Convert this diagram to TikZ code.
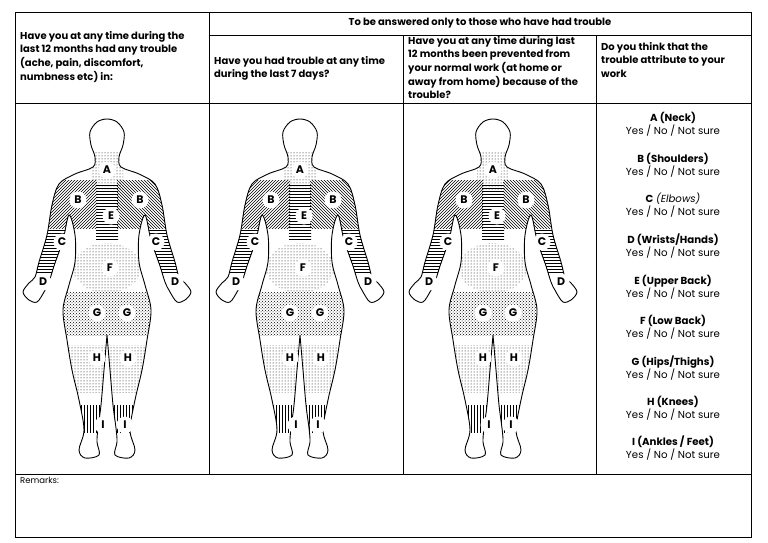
\documentclass[tikz,border=0pt]{standalone}
\usepackage{fontspec}
\setmainfont{Poppins}
\usetikzlibrary{patterns}
\begin{document}
\begin{tikzpicture}[x=1pt,y=-1pt,
  hd/.style={font=\fontsize{10}{13.6}\selectfont\bfseries, align=left, inner sep=0pt},
  ans/.style={font=\fontsize{10.2}{13}\selectfont, align=center, inner sep=0pt},
  lab/.style={circle, fill=white, inner sep=0pt, minimum size=17pt, font=\fontsize{11}{11}\selectfont\bfseries},
  pics/body/.style={code={
    \def\outline{plot[smooth, tension=0.55] coordinates {(0,335) (3,370) (6,405) (9,428) (10,442) (8,455) (22,458) (28,450) (23,430) (28,400) (35,370) (40,340) (44,310) (38,285) (32,262) (32,235) (38,215) (44,240) (53,266) (58,282) (63,292) (70,302) (78,300) (84,292) (78,283) (72,277) (68,262) (60,235) (55,205) (48,184) (32,174) (14,167) (12,157) (16,145) (17,132) (10,122) (0,119) (-10,122) (-17,132) (-16,145) (-12,157) (-14,167) (-32,174) (-48,184) (-55,205) (-60,235) (-68,262) (-72,277) (-78,283) (-84,292) (-78,300) (-70,302) (-63,292) (-58,282) (-53,266) (-44,240) (-38,215) (-32,235) (-32,262) (-38,285) (-44,310) (-40,340) (-35,370) (-28,400) (-23,430) (-28,450) (-22,458) (-8,455) (-10,442) (-9,428) (-6,405) (-3,370) (0,335)}}
    \begin{scope}
      \clip \outline;
      \fill[pattern=dots] (-16,152) rectangle (16,190);
      \fill[pattern=north east lines] (-60,180) rectangle (-10,228);
      \fill[pattern=north west lines] (10,180) rectangle (60,228);
      \fill[pattern=horizontal lines] (-11,185) rectangle (11,240);
      \fill[pattern=horizontal lines] (-80,228) rectangle (-40,272);
      \fill[pattern=horizontal lines] (40,228) rectangle (80,272);
      \fill[pattern=dots] (0,268) ellipse (34 and 25);
      \fill[pattern=crosshatch dots] (-50,292) rectangle (50,335);
      \fill[pattern=dots] (-40,345) rectangle (40,392);
      \fill[pattern=vertical lines] (-40,405) rectangle (40,432);
    \end{scope}
    \draw[line width=0.9pt] \outline;
    \node[lab] at (0,170) {A};
    \node[lab] at (-29,200) {B}; \node[lab] at (33,200) {B};
    \node[lab] at (4,216) {E};
    \node[lab] at (-45,242) {C}; \node[lab] at (49,242) {C};
    \node[lab] at (-64,282) {D}; \node[lab] at (68,282) {D};
    \node[lab] at (3,268) {F};
    \node[lab] at (-10,313) {G}; \node[lab] at (20,313) {G};
    \node[lab] at (-10,358) {H}; \node[lab] at (21,358) {H};
    \node[lab] at (-4,425) {I}; \node[lab] at (18,425) {I};
  }}]
\useasboundingbox (0,0) rectangle (768,543);
\fill[white] (0,0) rectangle (768,543);
\coordinate (tl) at (15,12);
\coordinate (br) at (751,537);
\draw[line width=0.9pt] (tl) rectangle (br);
\draw[line width=0.9pt] (209,12) -- (209,474);
\draw[line width=0.9pt] (209,35) -- (751,35);
\draw[line width=0.9pt] (403,35) -- (403,474);
\draw[line width=0.9pt] (596,35) -- (596,474);
\draw[line width=0.9pt] (15,103) -- (751,103);
\draw[line width=0.9pt] (15,474) -- (751,474);
\node[hd, anchor=center] (top) at (480,23) {To be answered only to those who have had trouble};
\node[hd, anchor=north west] (h1) at (20,31) {Have you at any time during the\\last 12 months had any trouble\\(ache, pain, discomfort,\\numbness etc) in:};
\node[hd, anchor=north west] (h2) at (214,56) {Have you had trouble at any time\\during the last 7 days?};
\node[hd, anchor=north west] (h3) at (408,36) {Have you at any time during last\\12 months been prevented from\\your normal work (at home or\\away from home) because of the\\trouble?};
\node[hd, anchor=north west] (h4) at (601,42) {Do you think that the\\trouble attribute to your\\work};
\pic at (107,0) {body};
\pic at (300,0) {body};
\pic at (493,0) {body};
\foreach \y/\t [count=\i] in {124/{\bfseries A (Neck)},165/{\bfseries B (Shoulders)},205/{\bfseries C} \itshape(Elbows),246/{\bfseries D (Wrists/Hands)},287/{\bfseries E (Upper Back)},327/{\bfseries F (Low Back)},368/{\bfseries G (Hips/Thighs)},408/{\bfseries H (Knees)},448/{\bfseries I (Ankles / Feet)}}{
  \node[ans] (q\i) at (673,\y) {\t\\Yes / No / Not sure};
}
\node[anchor=north west, inner sep=0pt, font=\fontsize{8.5}{9}\selectfont] (rem) at (20,477) {Remarks:};
\end{tikzpicture}
\end{document}
